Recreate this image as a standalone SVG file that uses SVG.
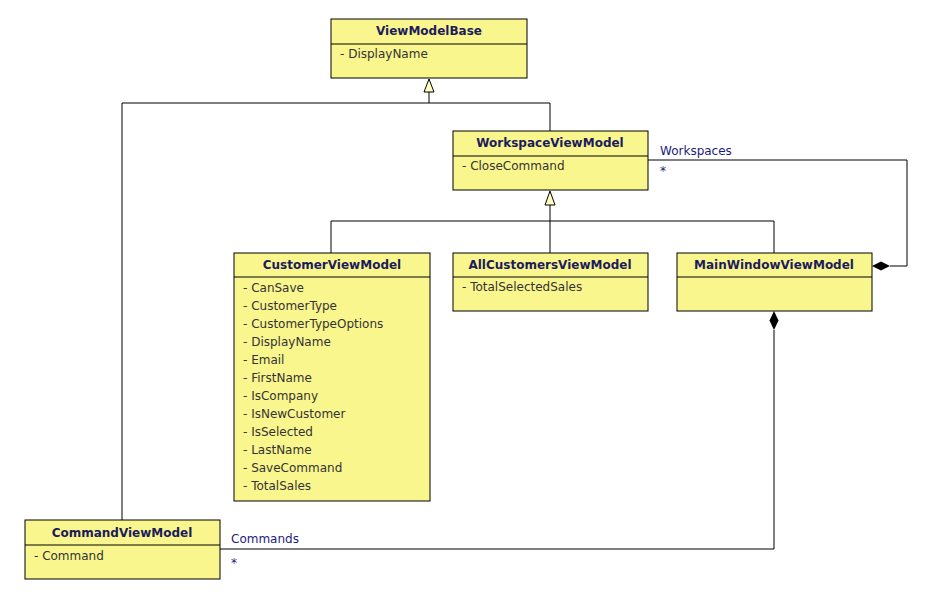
<svg xmlns="http://www.w3.org/2000/svg" width="947" height="598" viewBox="0 0 947 598">
<style>
.box{fill:#FAF68E;stroke:#000;stroke-width:1}
.t{font-family:"DejaVu Sans",sans-serif;font-size:12px;font-weight:bold;fill:#1C1C5C;text-anchor:middle}
.a{font-family:"DejaVu Sans",sans-serif;font-size:12px;fill:#333}
.l{font-family:"DejaVu Sans",sans-serif;font-size:12px;fill:#1C1C7C}
.c{fill:none;stroke:#000;stroke-width:1}
</style>
<defs>
<marker id="gen" markerWidth="12" markerHeight="16" refX="6" refY="0" orient="auto-start-reverse" markerUnits="userSpaceOnUse" viewBox="-1 -1 14 18">
<path d="M6,0 L11,15 L1,15 Z" fill="#FFFFC0" stroke="#000"/>
</marker>
</defs>
<rect width="947" height="598" fill="#fff"/>
<g id="connectors">
<path class="c" d="M429,92 V103 M122,520 V103 H550 V131"/>
<path d="M429,79 L434,92 L424,92 Z" fill="#FFFFC0" stroke="#000"/>
<path class="c" d="M550,205 V221 M331,253 V221 H774 V253 M550,221 V253"/>
<path d="M550,191 L555,205 L545,205 Z" fill="#FFFFC0" stroke="#000"/>
<path class="c" d="M648,160 H907 V266 H890"/>
<path d="M872,266 L881,261.5 L890,266 L881,270.5 Z" fill="#000"/>
<path class="c" d="M220,549 H774 V330"/>
<path d="M774,311 L778.5,320.5 L774,330 L769.5,320.5 Z" fill="#000"/>
<text class="l" x="660" y="155">Workspaces</text>
<text class="l" x="660" y="175">*</text>
<text class="l" x="231" y="543">Commands</text>
<text class="l" x="231" y="567">*</text>
</g>
<g id="ViewModelBase">
<rect class="box" x="331" y="19" width="196" height="59"/><line class="c" x1="331" y1="44" x2="527" y2="44"/>
<text class="t" x="429" y="35">ViewModelBase</text>
<text class="a" x="340" y="58">- DisplayName</text>
</g>
<g id="WorkspaceViewModel">
<rect class="box" x="453" y="131" width="195" height="59"/><line class="c" x1="453" y1="156" x2="648" y2="156"/>
<text class="t" x="550" y="147">WorkspaceViewModel</text>
<text class="a" x="462" y="170">- CloseCommand</text>
</g>
<g id="CustomerViewModel">
<rect class="box" x="234" y="253" width="196" height="248"/><line class="c" x1="234" y1="277" x2="430" y2="277"/>
<text class="t" x="332" y="269">CustomerViewModel</text>
<text class="a" x="243" y="292">- CanSave</text>
<text class="a" x="243" y="310">- CustomerType</text>
<text class="a" x="243" y="328">- CustomerTypeOptions</text>
<text class="a" x="243" y="346">- DisplayName</text>
<text class="a" x="243" y="364">- Email</text>
<text class="a" x="243" y="382">- FirstName</text>
<text class="a" x="243" y="400">- IsCompany</text>
<text class="a" x="243" y="418">- IsNewCustomer</text>
<text class="a" x="243" y="436">- IsSelected</text>
<text class="a" x="243" y="454">- LastName</text>
<text class="a" x="243" y="472">- SaveCommand</text>
<text class="a" x="243" y="490">- TotalSales</text>
</g>
<g id="AllCustomersViewModel">
<rect class="box" x="453" y="253" width="195" height="58"/><line class="c" x1="453" y1="277" x2="648" y2="277"/>
<text class="t" x="550" y="269">AllCustomersViewModel</text>
<text class="a" x="462" y="291">- TotalSelectedSales</text>
</g>
<g id="MainWindowViewModel">
<rect class="box" x="677" y="253" width="195" height="58"/><line class="c" x1="677" y1="277" x2="872" y2="277"/>
<text class="t" x="774" y="269">MainWindowViewModel</text>
</g>
<g id="CommandViewModel">
<rect class="box" x="25" y="520" width="195" height="59"/><line class="c" x1="25" y1="545" x2="220" y2="545"/>
<text class="t" x="122" y="537">CommandViewModel</text>
<text class="a" x="34" y="560">- Command</text>
</g>
</svg>
